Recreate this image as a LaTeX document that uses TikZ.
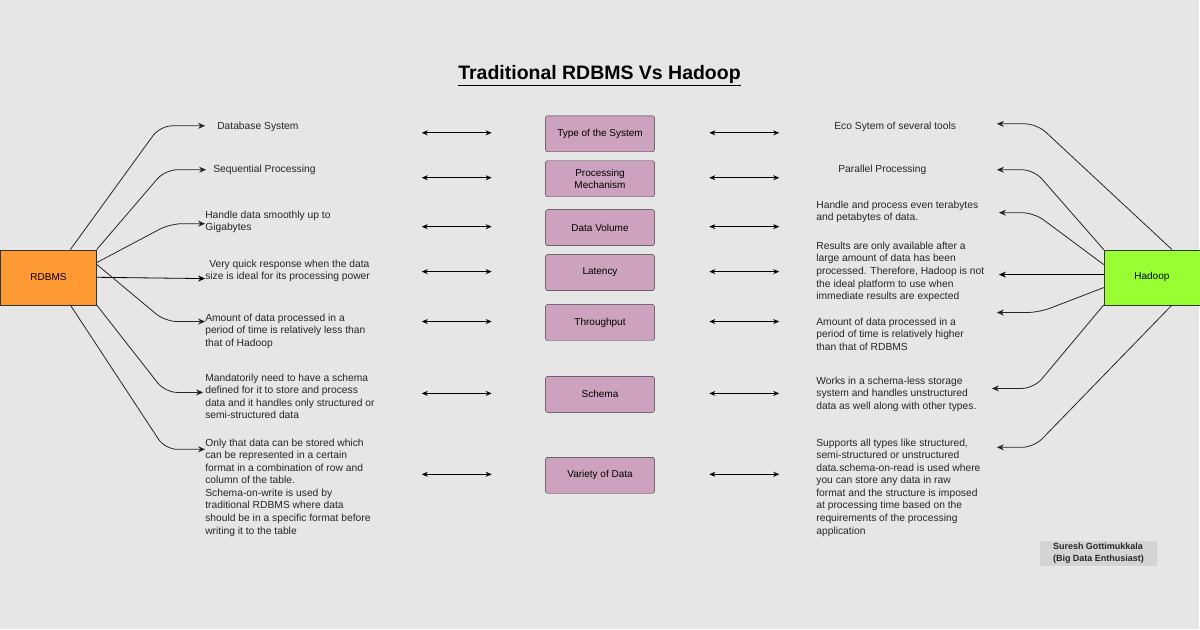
\documentclass[tikz,border=0pt]{standalone}
\usepackage{fontspec}
\setmainfont{Liberation Sans}
\usetikzlibrary{arrows.meta}
\definecolor{bg}{HTML}{E6E6E6}
\definecolor{midc}{HTML}{CDA2BE}
\definecolor{rdc}{HTML}{FF9933}
\definecolor{hdc}{HTML}{99FF33}
\definecolor{sigc}{HTML}{D4D4D4}
\begin{document}
\begin{tikzpicture}[x=1pt,y=-1pt,
  mid/.style={draw=black!80,fill=midc,rounded corners=2pt,minimum width=109pt,minimum height=36pt,align=center,font=\fontsize{10}{12}\selectfont,inner sep=1pt},
  side/.style={draw=black!80,fill=#1,minimum width=96pt,minimum height=55pt,font=\fontsize{10}{12}\selectfont},
  txt/.style={anchor=north west,align=left,inner sep=0pt,font=\fontsize{10.3}{12.6}\selectfont,text=black!85},
  one/.style={anchor=west,inner sep=0pt,font=\fontsize{10.3}{12.6}\selectfont,text=black!85},
  arr/.style={-{Stealth[length=7pt,width=6pt]},black,line width=0.8pt},
  fan/.style={-{Stealth[length=7pt,width=6pt]},black!85,line width=0.8pt,rounded corners=12pt},
  dbl/.style={{Stealth[length=6pt,width=5pt]}-{Stealth[length=6pt,width=5pt]},black,line width=0.8pt}]
\fill[bg] (0,0) rectangle (1200,630);
\node[font=\bfseries\fontsize{19.5}{22}\selectfont,inner sep=0pt] (title) at (600,76) {\underline{Traditional RDBMS Vs Hadoop}};
\node[side=rdc,anchor=north west] (rd) at (0,250) {RDBMS};
\node[side=hdc,anchor=north west] (hd) at (1105,250) {Hadoop};
% middle
\foreach \n/\y/\t in {m1/134/Type of the System, m2/179/Processing\\Mechanism, m3/228/Data Volume, m4/273/Latency/Response\\Time, m5/323/Throughput, m6/395/Schema, m7/476/Variety of Data}{
  \node[mid] (\n) at (600.5,\y) {\t};
  \coordinate (\n l1) at (422,\y-1);
  \coordinate (\n l2) at (492,\y-1);
  \coordinate (\n r1) at (710,\y-1);
  \coordinate (\n r2) at (780,\y-1);
  \draw[dbl] (\n l1) -- (\n l2);
  \draw[dbl] (\n r1) -- (\n r2);
}
% left texts
\node[one] (l1) at (217,127) {Database System};
\node[one] (l2) at (213,170) {Sequential Processing};
\node[txt] (l3) at (205,211) {Handle data smoothly up to\\Gigabytes};
\node[txt] (l4) at (205,260) {\hspace*{4pt}Very quick response when the data\\size is ideal for its processing power};
\node[txt] (l5) at (205,314) {Amount of data processed in a\\period of time is relatively less than\\that of Hadoop};
\node[txt] (l6) at (205,374) {Mandatorily need to have a schema\\defined for it to store and process\\data and it handles only structured or\\semi-structured data};
\node[txt] (l7) at (205,439) {Only that data can be stored which\\can be represented in a certain\\format in a combination of row and\\column of the table.\\Schema-on-write is used by\\traditional RDBMS where data\\should be in a specific format before\\writing it to the table};
% right texts
\node[one] (r1) at (835,127) {Eco Sytem of several tools};
\node[one] (r2) at (839,170) {Parallel Processing};
\node[txt] (r3) at (817,201) {Handle and process even terabytes\\and petabytes of data.};
\node[txt] (r4) at (817,242) {Results are only available after a\\large amount of data has been\\processed. Therefore, Hadoop is not\\the ideal platform to use when\\immediate results are expected};
\node[txt] (r5) at (817,318) {Amount of data processed in a\\period of time is relatively higher\\than that of RDBMS};
\node[txt] (r6) at (817,377) {Works in a schema-less storage\\system and handles unstructured\\data as well along with other types.};
\node[txt] (r7) at (817,439) {Supports all types like structured,\\semi-structured or unstructured\\data.schema-on-read is used where\\you can store any data in raw\\format and the structure is imposed\\at processing time based on the\\requirements of the processing\\application};
% left fan
\coordinate (la1) at (205,126); \coordinate (la2) at (206,170); \coordinate (la3) at (205,224);
\coordinate (la4) at (205,279); \coordinate (la5) at (205,322); \coordinate (la6) at (203,393); \coordinate (la7) at (205,450);
\draw[fan] (rd.north west)++(70,0) -- (160,126) -- (la1);
\draw[fan] (rd.north east) -- (165,170) -- (la2);
\draw[fan] ([yshift=-13pt]rd.north east) -- (170,224) -- (la3);
\draw[arr] (rd.east) -- (la4);
\draw[fan] ([yshift=13pt]rd.east) -- (165,322) -- (la5);
\draw[fan] (rd.south east) -- (165,393) -- (la6);
\draw[fan] (rd.south west)++(70,0) -- (165,450) -- (la7);
% right fan
\coordinate (ra1) at (998,124); \coordinate (ra2) at (998,170); \coordinate (ra3) at (1000,213);
\coordinate (ra4) at (1000,275); \coordinate (ra5) at (998,313); \coordinate (ra6) at (993,389); \coordinate (ra7) at (998,448);
\draw[fan] ([xshift=-28pt]hd.north east) -- (1038,124) -- (ra1);
\draw[fan] (hd.north west) -- (1035,170) -- (ra2);
\draw[fan] ([yshift=-15pt]hd.north west) -- (1035,213) -- (ra3);
\draw[arr] ([yshift=-25pt]hd.north west) -- (ra4);
\draw[fan] ([yshift=-38pt]hd.north west) -- (1040,313) -- (ra5);
\draw[fan] (hd.south west) -- (1035,389) -- (ra6);
\draw[fan] ([xshift=-28pt]hd.south east) -- (1035,448) -- (ra7);
% signature
\node[fill=sigc,anchor=north west,align=left,inner sep=2pt,font=\bfseries\fontsize{9}{12}\selectfont,text=black!85,minimum width=117pt] (sig) at (1041,542) {Suresh Gottimukkala\\(Big Data Enthusiast)};
\end{tikzpicture}
\end{document}
